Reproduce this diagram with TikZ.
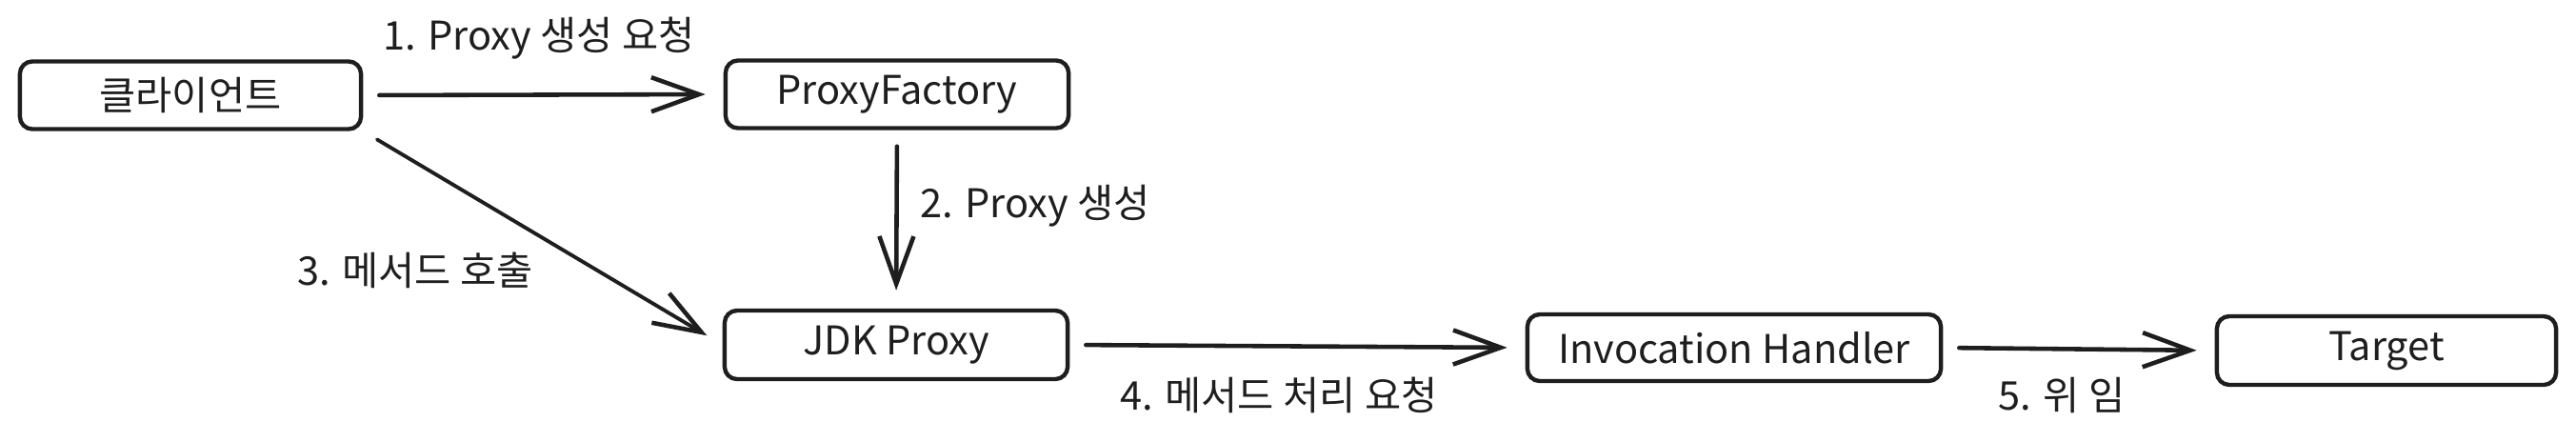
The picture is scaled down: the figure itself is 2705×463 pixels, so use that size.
\documentclass[tikz,border=0pt]{standalone}
\usepackage{fontspec}
\setmainfont{Noto Sans CJK KR}
\usetikzlibrary{arrows.meta}
\definecolor{ink}{HTML}{1E1E1E}
\tikzset{
	block/.style={draw=ink, line width=1.25pt, rounded corners=1.3mm, text=ink, font=\fontsize{11.8}{13}\selectfont, inner sep=0pt},
	flow/.style={draw=ink, line width=1.3pt, line cap=round, -{Straight Barb[length=5mm,width=3.6mm,line width=1.3pt]}, shorten <=1.7mm, shorten >=1.9mm},
	note/.style={text=ink, font=\fontsize{11.8}{13}\selectfont, inner sep=0pt}
}

\begin{document}
\begin{tikzpicture}[x=0.01cm, y=-0.01cm]
			%%%%% START %%%%%
			\useasboundingbox (0, 0) rectangle (2705, 463);
			
			\node[block, minimum width=3.58cm, minimum height=0.71cm] (client) at (200, 100) {클라이언트};
			\node[block, minimum width=3.6cm, minimum height=0.71cm] (factory) at (942, 99) {ProxyFactory};
			\node[block, minimum width=3.6cm, minimum height=0.72cm] (jdk) at (941, 362) {JDK Proxy};
			\node[block, minimum width=4.34cm, minimum height=0.7cm] (handler) at (1821, 365) {Invocation Handler};
			\node[block, minimum width=3.56cm, minimum height=0.72cm] (target) at (2506, 368) {Target};
			
			\draw[flow] (client.east) -- (factory.west);
			\node[note] (create) at (566, 40) {1. Proxy 생성 요청};
			
			\draw[flow] (factory.south) -- (jdk.north);
			\node[note, anchor=west] (make) at (966, 216) {2. Proxy 생성};
			
			\draw[flow, line width=1.1pt] (client.south east) -- (jdk.west);
			\node[note] (call) at (436, 284) {3. 메서드 호출};
			
			\draw[flow] (jdk.east) -- (handler.west);
			\node[note] (handle) at (1343, 415) {4. 메서드 처리 요청};
			
			\draw[flow] (handler.east) -- (target.west);
			\node[note] (delegate) at (2165, 415) {5. 위 임};
			
			%%%%% END %%%%%
\end{tikzpicture}
\end{document}
